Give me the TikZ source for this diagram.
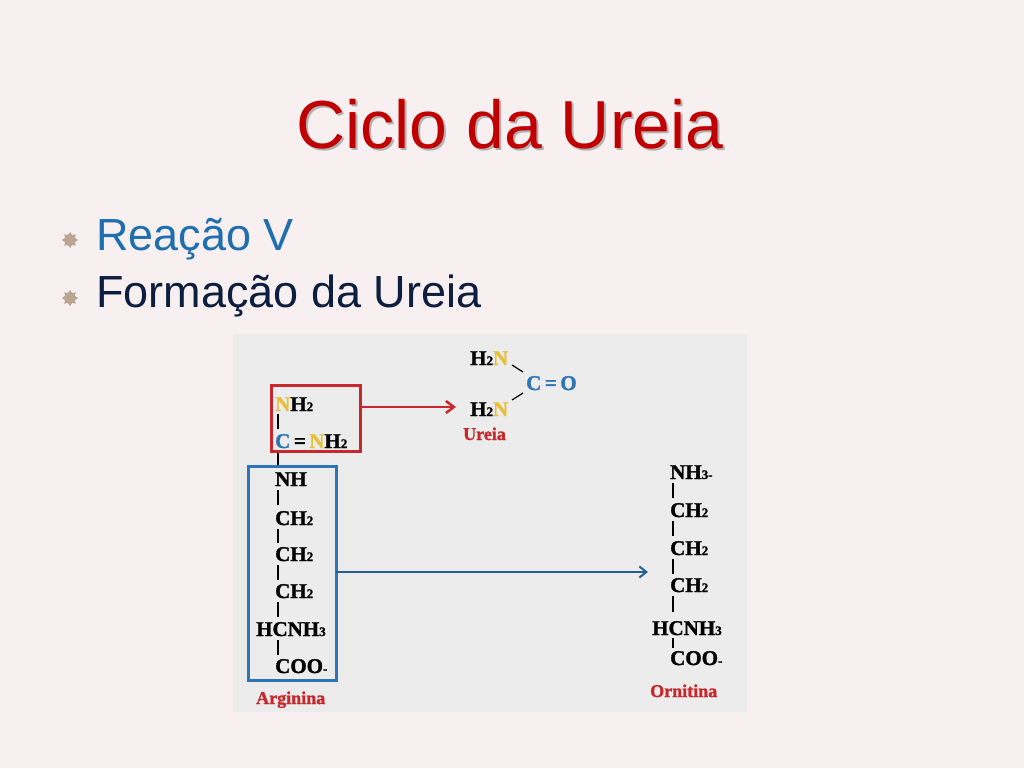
\documentclass[tikz,border=0pt]{standalone}
\usepackage{fontspec}
\setmainfont{Liberation Sans}
\newfontfamily\chem[FakeBold=1.5]{LiberationSerif-Bold.ttf}
\usetikzlibrary{shapes.geometric,arrows.meta}
\definecolor{bg}{HTML}{F8F0F0}
\definecolor{panel}{HTML}{ECECEC}
\definecolor{ttl}{HTML}{C00000}
\definecolor{nyel}{HTML}{E8C038}
\definecolor{cblu}{HTML}{2E75B6}
\definecolor{chred}{HTML}{C8282C}
\definecolor{bl1}{HTML}{1F6FB0}
\definecolor{bl2}{HTML}{0E1E3E}
\newcommand\sbx[1]{{\fontsize{13}{13}\selectfont #1}}
\newcommand\Ny{\textcolor{nyel}{N}}
\newcommand\Cb{\textcolor{cblu}{C}}
\tikzset{
  ch/.style={font=\chem\fontsize{21}{21}\selectfont, inner sep=0pt, anchor=base west},
  lbl/.style={font=\chem\fontsize{18}{18}\selectfont, text=chred, inner sep=0pt, anchor=base west},
  bond/.style={black, line width=1.6pt},
  bul/.style={star, star points=8, star point ratio=1.5, minimum size=15pt, inner sep=0pt, fill=brown!45!gray!70, draw=brown!60!black!60, line width=0.4pt}
}
\begin{document}
\begin{tikzpicture}[x=1pt,y=-1pt]
\fill[bg] (0,0) rectangle (1024,768);
\useasboundingbox (0,0) rectangle (1024,768);
% title
\node[text=gray!60, font=\fontsize{68}{68}\selectfont, inner sep=0pt, anchor=base] at (512,150) {Ciclo da Ureia};
\node (title)[text=ttl, font=\fontsize{68}{68}\selectfont, inner sep=0pt, anchor=base] at (510,148) {Ciclo da Ureia};
% bullets
\node (b1)[bul] at (70,240) {};
\node (b2)[bul] at (70,298) {};
\node (t1)[text=bl1, font=\fontsize{45}{45}\selectfont, inner sep=0pt, anchor=base west] at (96,250) {Reação V};
\node (t2)[text=bl2, font=\fontsize{45}{45}\selectfont, inner sep=0pt, anchor=base west] at (96,307) {Formação da Ureia};
% panel
\fill[panel] (233,334) rectangle (747,712);
% arginine
\node (a1)[ch] at (275,411) {\Ny H\sbx{2}};
\node (a2)[ch] at (275,448) {\Cb\,=\,\Ny H\sbx{2}};
\node (a3)[ch] at (275,486) {NH};
\node (a4)[ch] at (275,525) {CH\sbx{2}};
\node (a5)[ch] at (275,561) {CH\sbx{2}};
\node (a6)[ch] at (275,598) {CH\sbx{2}};
\node (a7)[ch] at (256,636) {HCNH\sbx{3}};
\node (a8)[ch] at (275,673) {COO\sbx{-}};
\node (alab)[lbl] at (256,704) {Arginina};
\foreach \ya/\yb in {414/429,452/467,490/505,529/543,565/580,602/617,640/655}
  \draw[bond] (278,\ya) -- (278,\yb);
% boxes
\draw[chred, line width=3pt] (271,385) rectangle (360,451);
\draw[cblu, line width=3pt] (248,466) rectangle (336,680);
% urea
\node (u1)[ch] at (470,365) {H\sbx{2}\Ny};
\node (u2)[ch] at (526,390) {\Cb\,\textcolor{cblu}{=}\,\textcolor{cblu}{O}};
\node (u3)[ch] at (470,416) {H\sbx{2}\Ny};
\node (ulab)[lbl] at (463,440) {Ureia};
\draw[bond, line width=1.2pt] (512,365) -- (523,372);
\draw[bond, line width=1.2pt] (512,400) -- (523,393);
% ornithine
\node (o1)[ch] at (670,479) {NH\sbx{3-}};
\node (o2)[ch] at (670,517) {CH\sbx{2}};
\node (o3)[ch] at (670,555) {CH\sbx{2}};
\node (o4)[ch] at (670,592) {CH\sbx{2}};
\node (o5)[ch] at (652,635) {HCNH\sbx{3}};
\node (o6)[ch] at (670,665) {COO\sbx{-}};
\node (olab)[lbl] at (650,697) {Ornitina};
\foreach \ya/\yb in {483/498,521/536,559/574,596/612,638/648}
  \draw[bond] (673,\ya) -- (673,\yb);
% arrows
\draw[chred, line width=2.5pt, -{Straight Barb[length=8pt,width=12pt]}] (360,407) -- (456,407);
\draw[cblu!80!black, line width=2pt, -{Straight Barb[length=7pt,width=11pt]}] (336,572) -- (648,572);
\end{tikzpicture}
\end{document}
